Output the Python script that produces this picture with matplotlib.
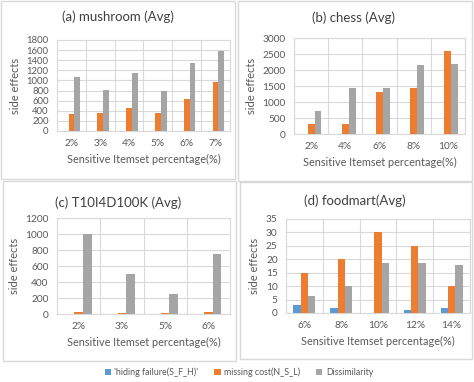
import numpy as np
import matplotlib

matplotlib.use("Agg")
import matplotlib.pyplot as plt
from matplotlib.patches import Rectangle

plt.rcParams["font.family"] = ["Lato", "DejaVu Sans"]

series_names = ["'hiding failure(S_F_H)'", "missing cost(N_S_L)", "Dissimilarity"]
colors = ["#5B9BD5", "#ED7D31", "#A5A5A5"]

mush_labels = ["2%", "3%", "4%", "5%", "6%", "7%"]
mush_hiding = [0, 0, 0, 0, 0, 0]
mush_missing = [330, 350, 450, 350, 640, 960]
mush_dissim = [1070, 820, 1140, 800, 1340, 1590]

chess_labels = ["2%", "4%", "6%", "8%", "10%"]
chess_hiding = [0, 0, 0, 0, 0]
chess_missing = [300, 300, 1300, 1450, 2600]
chess_dissim = [720, 1430, 1450, 2150, 2180]

t10_labels = ["2%", "3%", "5%", "6%"]
t10_hiding = [0, 0, 0, 0]
t10_missing = [20, 18, 18, 20]
t10_dissim = [1000, 500, 250, 750]

food_labels = ["6%", "8%", "10%", "12%", "14%"]
food_hiding = [3, 2, 0, 1, 2]
food_missing = [15, 20, 30, 25, 10]
food_dissim = [6.5, 10, 18.5, 18.5, 18]

W, H = 474, 382
TEXT = "#595959"
GRID = "#D9D9D9"


def px_axes(fig, left, right, top, bottom):
    return fig.add_axes([left / W, 1 - bottom / H, (right - left) / W, (bottom - top) / H])


def panel_box(fig, left, right, top, bottom):
    fig.patches.append(
        Rectangle((left / W, 1 - bottom / H), (right - left) / W, (bottom - top) / H,
                  transform=fig.transFigure, fill=False, edgecolor="#D9D9D9", linewidth=1.0)
    )


def draw_panel(ax, labels, hiding, missing, dissim, ymax, ystep, bar_w=0.2):
    x = np.arange(len(labels))
    for i, (vals, color) in enumerate(zip([hiding, missing, dissim], colors)):
        ax.bar(x + (i - 1) * bar_w, vals, width=bar_w, color=color, zorder=3, label=series_names[i])
    ax.set_xlim(-0.5, len(labels) - 0.5)
    ax.set_ylim(0, ymax)
    ax.set_yticks(np.arange(0, ymax + ystep / 2, ystep))
    ax.set_xticks(x)
    ax.set_xticklabels(labels)
    ax.set_xticks(np.arange(-0.5, len(labels), 1.0), minor=True)
    ax.grid(True, axis="y", color=GRID, linewidth=0.8, zorder=0)
    ax.grid(True, axis="x", which="minor", color=GRID, linewidth=0.8, zorder=0)
    ax.tick_params(axis="y", which="both", length=0, labelsize=7.3, colors=TEXT, pad=6)
    ax.tick_params(axis="x", which="both", length=0, labelsize=7.3, colors=TEXT, pad=6)
    for spine in ax.spines.values():
        spine.set_color(GRID)
        spine.set_linewidth(0.8)
    ax.set_ylabel("side effects", fontsize=8.0, color=TEXT, labelpad=4)
    ax.set_xlabel("Sensitive Itemset percentage(%)", fontsize=7.8, color=TEXT, labelpad=4)


fig = plt.figure(figsize=(W / 100, H / 100), dpi=100)
fig.patch.set_facecolor("white")

panel_box(fig, 1, 235, 1, 179)
panel_box(fig, 238, 472, 1, 181)
panel_box(fig, 3, 236, 181, 361)
panel_box(fig, 240, 472, 182, 359)

ax_a = px_axes(fig, 57, 230, 40, 131)
draw_panel(ax_a, mush_labels, mush_hiding, mush_missing, mush_dissim, 1800, 200)
ax_a.tick_params(axis="y", labelsize=6.8)

ax_b = px_axes(fig, 294, 465, 38, 134)
draw_panel(ax_b, chess_labels, chess_hiding, chess_missing, chess_dissim, 3000, 500)

ax_c = px_axes(fig, 57, 230, 218, 314)
draw_panel(ax_c, t10_labels, t10_hiding, t10_missing, t10_dissim, 1200, 200)

ax_d = px_axes(fig, 286, 470, 219, 313)
draw_panel(ax_d, food_labels, food_hiding, food_missing, food_dissim, 35, 5)

title_kw = dict(fontsize=9.5, color="#404040", ha="center", va="center")
fig.text(118 / W, 1 - 17 / H, "(a) mushroom (Avg)", **title_kw)
fig.text(354 / W, 1 - 18 / H, "(b) chess (Avg)", **title_kw)
fig.text(118 / W, 1 - 203 / H, "(c) T10I4D100K (Avg)", **title_kw)
fig.text(355 / W, 1 - 201 / H, "(d) foodmart(Avg)", **title_kw)

handles, labels = ax_d.get_legend_handles_labels()
fig.legend(handles, labels, loc="center", bbox_to_anchor=(239 / W, 1 - 372 / H), ncol=3,
           frameon=False, fontsize=6.4, handlelength=0.7, handleheight=0.7,
           handletextpad=0.4, columnspacing=1.8, labelcolor=TEXT)

fig.savefig("out.png", dpi=100)
plt.close(fig)
